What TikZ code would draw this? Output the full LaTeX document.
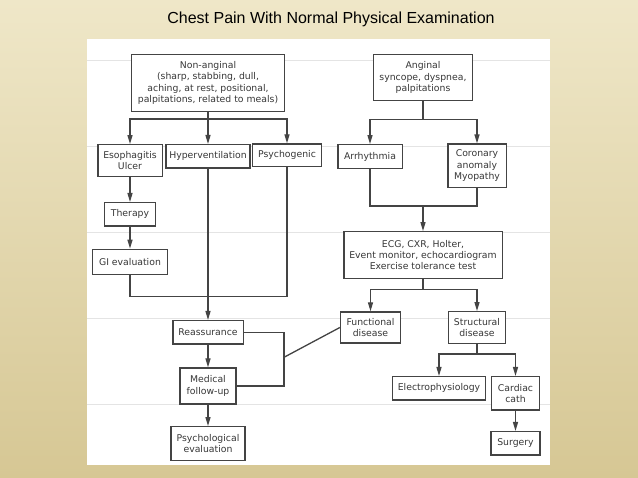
\documentclass[tikz,border=0pt]{standalone}
\usepackage{fontspec}
\setmainfont{DejaVu Sans}
\newfontfamily\titlefont{Liberation Sans}
\usetikzlibrary{arrows.meta}
\definecolor{bgtop}{RGB}{239,231,200}
\definecolor{bgbot}{RGB}{214,199,148}
\definecolor{linec}{RGB}{68,68,68}
\definecolor{textc}{RGB}{55,55,55}
\definecolor{ruleline}{RGB}{228,228,228}
\newcommand\bx[6]{\node[box,minimum width=#4pt,minimum height=#5pt] (#1) at (#2,#3) {#6};}
\begin{document}
\begin{tikzpicture}[x=1pt,y=-1pt,
  box/.style={draw=linec, line width=1.3pt, fill=white, text=textc, font=\fontsize{9.3}{11.4}\selectfont, align=center, inner sep=0pt},
  arr/.style={draw=linec, line width=1.3pt, -{Triangle[length=9pt,width=5pt]}},
  ln/.style={draw=linec, line width=1.3pt}]
\useasboundingbox (0,0) rectangle (638,478);
\shade[top color=bgtop,bottom color=bgbot] (0,0) rectangle (638,478);
\fill[white] (87,39) rectangle (550,465);
\foreach \yy in {60.5,146,232.5,318.5,404} \draw[ruleline, line width=0.8pt] (87,\yy) -- (550,\yy);
\node[font=\titlefont\fontsize{16}{19}\selectfont, text=black] (title) at (331,19) {Chest Pain With Normal Physical Examination};
% boxes
\bx{nonang}{208}{83}{153}{56.6}{Non-anginal\\(sharp, stabbing, dull,\\aching, at rest, positional,\\palpitations, related to meals)}
\bx{ang}{423}{77.5}{98.7}{45.6}{Anginal\\syncope, dyspnea,\\palpitations}
\bx{esoph}{130}{160.5}{64.3}{31.6}{Esophagitis\\Ulcer}
\bx{hyper}{208}{156.3}{84}{23.3}{Hyperventilation}
\bx{psych}{287}{155.3}{68.5}{22.7}{Psychogenic}
\bx{arrh}{370}{156.7}{64.3}{24}{Arrhythmia}
\bx{coron}{477}{165.7}{58.3}{43.3}{Coronary\\anomaly\\Myopathy}
\bx{therapy}{130}{214.3}{50.4}{23.3}{Therapy}
\bx{gi}{130}{261.8}{75}{25}{GI evaluation}
\bx{ecg}{423}{255}{158.3}{46.6}{ECG, CXR, Holter,\\Event monitor, echocardiogram\\Exercise tolerance test}
\bx{reass}{208}{332.3}{70.3}{23.3}{Reassurance}
\bx{medfu}{208}{386}{56}{36}{Medical\\follow-up}
\bx{psyeval}{208}{443.7}{74}{34}{Psychological\\evaluation}
\bx{func}{370.5}{327.5}{60}{31}{Functional\\disease}
\bx{struct}{477}{327.5}{57.6}{31.6}{Structural\\disease}
\bx{electro}{439}{388.3}{93.3}{23.3}{Electrophysiology}
\bx{cath}{515.5}{393.3}{47.4}{33.3}{Cardiac\\cath}
\bx{surgery}{515.5}{443.3}{49}{23.3}{Surgery}
% connectors
\coordinate (j1) at (208,119);
\draw[ln] (nonang.south) -- (j1);
\draw[arr] (j1) -| (esoph.north);
\draw[arr] (j1) -| (psych.north);
\draw[arr] (j1) -- (hyper.north);
\coordinate (j2) at (423,119.7);
\draw[ln] (ang.south) -- (j2);
\draw[arr] (j2) -| (arrh.north);
\draw[arr] (j2) -| (coron.north);
\coordinate (j3) at (423,206);
\draw[ln] (arrh.south) |- (j3);
\draw[ln] (coron.south) |- (j3);
\draw[arr] (j3) -- (ecg.north);
\draw[arr] (esoph.south) -- (therapy.north);
\draw[arr] (therapy.south) -- (gi.north);
\coordinate (g1) at (130,296.7);
\coordinate (g2) at (287,296.7);
\draw[ln] (gi.south) -- (g1) -- (g2) -- (psych.south);
\draw[arr] (hyper.south) -- (reass.north);
\draw[arr] (reass.south) -- (medfu.north);
\draw[arr] (medfu.south) -- (psyeval.north);
\coordinate (b1) at (284,332.3);
\coordinate (b2) at (284,386);
\coordinate (bm) at (284,357.3);
\draw[ln] (reass.east) -- (b1) -- (b2) -- (medfu.east);
\draw[ln] (bm) -- (func.west);
\coordinate (j5) at (423,289.3);
\draw[ln] (ecg.south) -- (j5);
\draw[arr] (j5) -| (func.north);
\draw[arr] (j5) -| (struct.north);
\coordinate (j6) at (477,354);
\draw[ln] (struct.south) -- (j6);
\draw[arr] (j6) -| (electro.north);
\draw[arr] (j6) -| (cath.north);
\draw[arr] (cath.south) -- (surgery.north);
\end{tikzpicture}
\end{document}
